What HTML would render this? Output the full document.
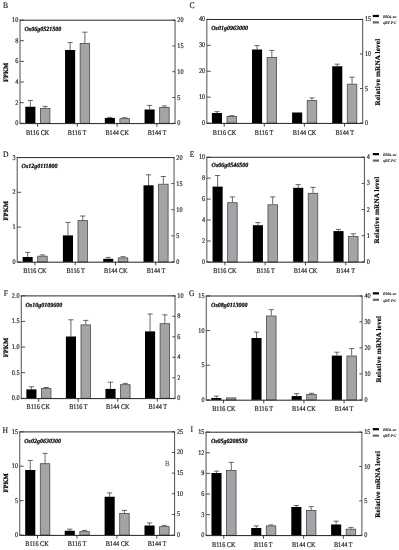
<!DOCTYPE html>
<html lang="en">
<head>
<meta charset="utf-8">
<title>Figure</title>
<style>
html,body{margin:0;padding:0;background:#fff;}
body{width:399px;height:550px;overflow:hidden;}
svg{display:block;}
#fig{filter:blur(0.3px);}
text{font-family:"Liberation Serif", serif;fill:#1a1a1a;text-rendering:geometricPrecision;}
.a{fill:none;stroke:#3a3a3a;stroke-width:0.9;}
.h{fill:none;stroke:#1c1c1c;stroke-width:0.95;}
.hb{fill:none;stroke:#222;stroke-width:1.0;}
.e{fill:none;stroke:#444;stroke-width:0.8;}
.bb{fill:#000;}
.gb{fill:#a3a3a8;stroke:#4a4a4a;stroke-width:0.8;}
.t{font-size:6.2px;stroke:#1a1a1a;stroke-width:0.16px;}
.g{font-size:6px;font-weight:bold;font-style:italic;fill:#000;stroke:#000;stroke-width:0.2px;}
.L{font-size:7.6px;stroke:#1a1a1a;stroke-width:0.15px;}
.y{font-size:6.6px;font-weight:bold;fill:#000;stroke:#000;stroke-width:0.22px;}
.r{font-size:7.05px;font-weight:bold;fill:#000;stroke:#000;stroke-width:0.18px;letter-spacing:0.22px;}
.lg{font-size:3.7px;font-style:italic;fill:#111;stroke:#222;stroke-width:0.12px;}
</style>
</head>
<body>
<svg width="399" height="550" viewBox="0 0 399 550">
<rect width="399" height="550" fill="#fff"/>
<g id="fig">
<g>
<path d="M30.35 106.75V100.40M27.75 100.40H32.95" class="e"/>
<path d="M45.15 108.00V106.40M42.55 106.40H47.75" class="e"/>
<rect x="25.30" y="106.75" width="10.10" height="16.55" class="bb"/>
<rect x="40.40" y="108.40" width="9.50" height="14.90" class="gb"/>
<path d="M37.60 123.30v3.5" class="a"/>
<path d="M70.10 50.00V42.60M67.50 42.60H72.70" class="e"/>
<path d="M84.90 43.20V32.20M82.30 32.20H87.50" class="e"/>
<rect x="65.05" y="50.00" width="10.10" height="73.30" class="bb"/>
<rect x="80.15" y="43.60" width="9.50" height="79.70" class="gb"/>
<path d="M77.35 123.30v3.5" class="a"/>
<path d="M109.85 118.00V117.40M107.25 117.40H112.45" class="e"/>
<path d="M124.65 118.25V117.70M122.05 117.70H127.25" class="e"/>
<rect x="104.80" y="118.00" width="10.10" height="5.30" class="bb"/>
<rect x="119.90" y="118.65" width="9.50" height="4.65" class="gb"/>
<path d="M117.10 123.30v3.5" class="a"/>
<path d="M149.60 109.50V105.40M147.00 105.40H152.20" class="e"/>
<path d="M164.40 107.00V105.90M161.80 105.90H167.00" class="e"/>
<rect x="144.55" y="109.50" width="10.10" height="13.80" class="bb"/>
<rect x="159.65" y="107.40" width="9.50" height="15.90" class="gb"/>
<path d="M156.85 123.30v3.5" class="a"/>
<path d="M20.00 123.30V20.10M175.05 20.10V123.30" class="a"/>
<path d="M19.55 20.20H175.50" class="h"/>
<path d="M19.55 123.60H175.50" class="hb"/>
<path d="M20.00 123.30h3.9" class="a"/>
<path d="M20.00 102.66h3.9" class="a"/>
<path d="M20.00 82.02h3.9" class="a"/>
<path d="M20.00 61.38h3.9" class="a"/>
<path d="M20.00 40.74h3.9" class="a"/>
<path d="M20.00 20.10h3.9" class="a"/>
<path d="M175.05 123.30h-2.7" class="a"/>
<path d="M175.05 97.50h-2.7" class="a"/>
<path d="M175.05 71.70h-2.7" class="a"/>
<path d="M175.05 45.90h-2.7" class="a"/>
<path d="M175.05 20.10h-2.7" class="a"/>
</g>
<g>
<path d="M216.95 113.00V111.65M214.35 111.65H219.55" class="e"/>
<path d="M231.75 116.00V115.65M229.15 115.65H234.35" class="e"/>
<rect x="211.90" y="113.00" width="10.10" height="10.10" class="bb"/>
<rect x="227.00" y="116.40" width="9.50" height="6.70" class="gb"/>
<path d="M224.20 123.10v3.5" class="a"/>
<path d="M257.05 49.50V45.65M254.45 45.65H259.65" class="e"/>
<path d="M271.85 57.00V50.40M269.25 50.40H274.45" class="e"/>
<rect x="252.00" y="49.50" width="10.10" height="73.60" class="bb"/>
<rect x="267.10" y="57.40" width="9.50" height="65.70" class="gb"/>
<path d="M264.30 123.10v3.5" class="a"/>
<path d="M311.95 100.00V97.90M309.35 97.90H314.55" class="e"/>
<rect x="292.10" y="112.50" width="10.10" height="10.60" class="bb"/>
<rect x="307.20" y="100.40" width="9.50" height="22.70" class="gb"/>
<path d="M304.40 123.10v3.5" class="a"/>
<path d="M337.25 66.25V64.15M334.65 64.15H339.85" class="e"/>
<path d="M352.05 83.75V77.15M349.45 77.15H354.65" class="e"/>
<rect x="332.20" y="66.25" width="10.10" height="56.85" class="bb"/>
<rect x="347.30" y="84.15" width="9.50" height="38.95" class="gb"/>
<path d="M344.50 123.10v3.5" class="a"/>
<path d="M206.85 123.10V19.40M362.70 19.40V123.10" class="a"/>
<path d="M206.40 19.50H363.15" class="h"/>
<path d="M206.40 123.40H363.15" class="hb"/>
<path d="M206.85 123.10h3.9" class="a"/>
<path d="M206.85 97.17h3.9" class="a"/>
<path d="M206.85 71.25h3.9" class="a"/>
<path d="M206.85 45.33h3.9" class="a"/>
<path d="M206.85 19.40h3.9" class="a"/>
<path d="M362.70 123.10h-2.7" class="a"/>
<path d="M362.70 88.53h-2.7" class="a"/>
<path d="M362.70 53.97h-2.7" class="a"/>
<path d="M362.70 19.40h-2.7" class="a"/>
<rect x="372.75" y="14.85" width="6.2" height="2.2" fill="#000"/>
<rect x="372.75" y="21.30" width="6.2" height="2.2" fill="#66666a"/>
</g>
<g>
<path d="M27.65 257.00V252.40M25.05 252.40H30.25" class="e"/>
<path d="M42.45 255.80V254.90M39.85 254.90H45.05" class="e"/>
<rect x="22.60" y="257.00" width="10.10" height="4.90" class="bb"/>
<rect x="37.70" y="256.20" width="9.50" height="5.70" class="gb"/>
<path d="M34.90 261.90v3.5" class="a"/>
<path d="M67.95 235.40V222.40M65.35 222.40H70.55" class="e"/>
<path d="M82.75 220.20V216.00M80.15 216.00H85.35" class="e"/>
<rect x="62.90" y="235.40" width="10.10" height="26.50" class="bb"/>
<rect x="78.00" y="220.60" width="9.50" height="41.30" class="gb"/>
<path d="M75.20 261.90v3.5" class="a"/>
<path d="M108.25 258.80V257.40M105.65 257.40H110.85" class="e"/>
<path d="M123.05 257.50V256.70M120.45 256.70H125.65" class="e"/>
<rect x="103.20" y="258.80" width="10.10" height="3.10" class="bb"/>
<rect x="118.30" y="257.90" width="9.50" height="4.00" class="gb"/>
<path d="M115.50 261.90v3.5" class="a"/>
<path d="M148.55 185.30V174.80M145.95 174.80H151.15" class="e"/>
<path d="M163.35 183.80V176.50M160.75 176.50H165.95" class="e"/>
<rect x="143.50" y="185.30" width="10.10" height="76.60" class="bb"/>
<rect x="158.60" y="184.20" width="9.50" height="77.70" class="gb"/>
<path d="M155.80 261.90v3.5" class="a"/>
<path d="M17.20 261.90V157.50M174.05 157.50V261.90" class="a"/>
<path d="M16.75 157.60H174.50" class="h"/>
<path d="M16.75 262.20H174.50" class="hb"/>
<path d="M17.20 261.90h3.9" class="a"/>
<path d="M17.20 227.10h3.9" class="a"/>
<path d="M17.20 192.30h3.9" class="a"/>
<path d="M17.20 157.50h3.9" class="a"/>
<path d="M174.05 261.90h-2.7" class="a"/>
<path d="M174.05 235.80h-2.7" class="a"/>
<path d="M174.05 209.70h-2.7" class="a"/>
<path d="M174.05 183.60h-2.7" class="a"/>
<path d="M174.05 157.50h-2.7" class="a"/>
</g>
<g>
<path d="M217.60 186.60V175.50M215.00 175.50H220.20" class="e"/>
<path d="M232.40 202.30V196.90M229.80 196.90H235.00" class="e"/>
<rect x="212.55" y="186.60" width="10.10" height="75.30" class="bb"/>
<rect x="227.65" y="202.70" width="9.50" height="59.20" class="gb"/>
<path d="M224.85 261.90v3.5" class="a"/>
<path d="M257.90 225.20V222.60M255.30 222.60H260.50" class="e"/>
<path d="M272.70 204.40V196.90M270.10 196.90H275.30" class="e"/>
<rect x="252.85" y="225.20" width="10.10" height="36.70" class="bb"/>
<rect x="267.95" y="204.80" width="9.50" height="57.10" class="gb"/>
<path d="M265.15 261.90v3.5" class="a"/>
<path d="M298.20 187.80V184.60M295.60 184.60H300.80" class="e"/>
<path d="M313.00 192.90V187.40M310.40 187.40H315.60" class="e"/>
<rect x="293.15" y="187.80" width="10.10" height="74.10" class="bb"/>
<rect x="308.25" y="193.30" width="9.50" height="68.60" class="gb"/>
<path d="M305.45 261.90v3.5" class="a"/>
<path d="M338.50 231.10V229.40M335.90 229.40H341.10" class="e"/>
<path d="M353.30 236.00V233.80M350.70 233.80H355.90" class="e"/>
<rect x="333.45" y="231.10" width="10.10" height="30.80" class="bb"/>
<rect x="348.55" y="236.40" width="9.50" height="25.50" class="gb"/>
<path d="M345.75 261.90v3.5" class="a"/>
<path d="M206.85 261.90V157.20M364.40 157.20V261.90" class="a"/>
<path d="M206.40 157.30H364.85" class="h"/>
<path d="M206.40 262.20H364.85" class="hb"/>
<path d="M206.85 261.90h3.9" class="a"/>
<path d="M206.85 240.96h3.9" class="a"/>
<path d="M206.85 220.02h3.9" class="a"/>
<path d="M206.85 199.08h3.9" class="a"/>
<path d="M206.85 178.14h3.9" class="a"/>
<path d="M206.85 157.20h3.9" class="a"/>
<path d="M364.40 261.90h-2.7" class="a"/>
<path d="M364.40 235.72h-2.7" class="a"/>
<path d="M364.40 209.55h-2.7" class="a"/>
<path d="M364.40 183.38h-2.7" class="a"/>
<path d="M364.40 157.20h-2.7" class="a"/>
<rect x="372.80" y="153.05" width="6.2" height="2.2" fill="#000"/>
<rect x="372.80" y="159.50" width="6.2" height="2.2" fill="#66666a"/>
</g>
<g>
<path d="M31.40 389.40V386.80M28.80 386.80H34.00" class="e"/>
<path d="M46.20 388.10V387.50M43.60 387.50H48.80" class="e"/>
<rect x="26.35" y="389.40" width="10.10" height="8.90" class="bb"/>
<rect x="41.45" y="388.50" width="9.50" height="9.80" class="gb"/>
<path d="M38.65 398.30v3.5" class="a"/>
<path d="M70.95 336.50V319.80M68.35 319.80H73.55" class="e"/>
<path d="M85.75 324.50V320.40M83.15 320.40H88.35" class="e"/>
<rect x="65.90" y="336.50" width="10.10" height="61.80" class="bb"/>
<rect x="81.00" y="324.90" width="9.50" height="73.40" class="gb"/>
<path d="M78.20 398.30v3.5" class="a"/>
<path d="M110.50 388.90V382.20M107.90 382.20H113.10" class="e"/>
<path d="M125.30 384.30V383.40M122.70 383.40H127.90" class="e"/>
<rect x="105.45" y="388.90" width="10.10" height="9.40" class="bb"/>
<rect x="120.55" y="384.70" width="9.50" height="13.60" class="gb"/>
<path d="M117.75 398.30v3.5" class="a"/>
<path d="M150.05 331.40V314.00M147.45 314.00H152.65" class="e"/>
<path d="M164.85 323.30V314.80M162.25 314.80H167.45" class="e"/>
<rect x="145.00" y="331.40" width="10.10" height="66.90" class="bb"/>
<rect x="160.10" y="323.70" width="9.50" height="74.60" class="gb"/>
<path d="M157.30 398.30v3.5" class="a"/>
<path d="M21.25 398.30V295.80M175.05 295.80V398.30" class="a"/>
<path d="M20.80 295.90H175.50" class="h"/>
<path d="M20.80 398.60H175.50" class="hb"/>
<path d="M21.25 398.30h3.9" class="a"/>
<path d="M21.25 372.68h3.9" class="a"/>
<path d="M21.25 347.05h3.9" class="a"/>
<path d="M21.25 321.43h3.9" class="a"/>
<path d="M21.25 295.80h3.9" class="a"/>
<path d="M175.05 398.30h-2.7" class="a"/>
<path d="M175.05 377.80h-2.7" class="a"/>
<path d="M175.05 357.30h-2.7" class="a"/>
<path d="M175.05 336.80h-2.7" class="a"/>
<path d="M175.05 316.30h-2.7" class="a"/>
<path d="M175.05 295.80h-2.7" class="a"/>
</g>
<g>
<path d="M216.30 398.00V396.10M213.70 396.10H218.90" class="e"/>
<rect x="211.25" y="398.00" width="10.10" height="1.90" class="bb"/>
<rect x="226.35" y="397.90" width="9.50" height="2.00" class="gb"/>
<path d="M223.55 399.90v3.5" class="a"/>
<path d="M256.50 338.00V332.10M253.90 332.10H259.10" class="e"/>
<path d="M271.30 315.60V309.70M268.70 309.70H273.90" class="e"/>
<rect x="251.45" y="338.00" width="10.10" height="61.90" class="bb"/>
<rect x="266.55" y="316.00" width="9.50" height="83.90" class="gb"/>
<path d="M263.75 399.90v3.5" class="a"/>
<path d="M296.70 396.10V393.60M294.10 393.60H299.30" class="e"/>
<path d="M311.50 394.10V393.30M308.90 393.30H314.10" class="e"/>
<rect x="291.65" y="396.10" width="10.10" height="3.80" class="bb"/>
<rect x="306.75" y="394.50" width="9.50" height="5.40" class="gb"/>
<path d="M303.95 399.90v3.5" class="a"/>
<path d="M336.85 355.60V352.20M334.25 352.20H339.45" class="e"/>
<path d="M351.65 355.60V348.60M349.05 348.60H354.25" class="e"/>
<rect x="331.80" y="355.60" width="10.10" height="44.30" class="bb"/>
<rect x="346.90" y="356.00" width="9.50" height="43.90" class="gb"/>
<path d="M344.10 399.90v3.5" class="a"/>
<path d="M206.25 399.90V295.90M362.10 295.90V399.90" class="a"/>
<path d="M205.80 296.00H362.55" class="h"/>
<path d="M205.80 400.20H362.55" class="hb"/>
<path d="M206.25 399.90h3.9" class="a"/>
<path d="M206.25 365.23h3.9" class="a"/>
<path d="M206.25 330.57h3.9" class="a"/>
<path d="M206.25 295.90h3.9" class="a"/>
<path d="M362.10 399.90h-2.7" class="a"/>
<path d="M362.10 373.90h-2.7" class="a"/>
<path d="M362.10 347.90h-2.7" class="a"/>
<path d="M362.10 321.90h-2.7" class="a"/>
<path d="M362.10 295.90h-2.7" class="a"/>
<rect x="372.80" y="292.25" width="6.2" height="2.2" fill="#000"/>
<rect x="372.80" y="298.70" width="6.2" height="2.2" fill="#66666a"/>
</g>
<g>
<path d="M30.25 470.00V460.40M27.65 460.40H32.85" class="e"/>
<path d="M45.05 463.30V453.40M42.45 453.40H47.65" class="e"/>
<rect x="25.20" y="470.00" width="10.10" height="65.10" class="bb"/>
<rect x="40.30" y="463.70" width="9.50" height="71.40" class="gb"/>
<path d="M37.50 535.10v3.5" class="a"/>
<path d="M69.75 530.75V529.15M67.15 529.15H72.35" class="e"/>
<path d="M84.55 531.25V530.40M81.95 530.40H87.15" class="e"/>
<rect x="64.70" y="530.75" width="10.10" height="4.35" class="bb"/>
<rect x="79.80" y="531.65" width="9.50" height="3.45" class="gb"/>
<path d="M77.00 535.10v3.5" class="a"/>
<path d="M109.65 496.75V492.90M107.05 492.90H112.25" class="e"/>
<path d="M124.45 513.00V510.40M121.85 510.40H127.05" class="e"/>
<rect x="104.60" y="496.75" width="10.10" height="38.35" class="bb"/>
<rect x="119.70" y="513.40" width="9.50" height="21.70" class="gb"/>
<path d="M116.90 535.10v3.5" class="a"/>
<path d="M149.55 525.50V522.90M146.95 522.90H152.15" class="e"/>
<path d="M164.35 526.25V525.40M161.75 525.40H166.95" class="e"/>
<rect x="144.50" y="525.50" width="10.10" height="9.60" class="bb"/>
<rect x="159.60" y="526.65" width="9.50" height="8.45" class="gb"/>
<path d="M156.80 535.10v3.5" class="a"/>
<path d="M19.75 535.10V431.80M174.60 431.80V535.10" class="a"/>
<path d="M19.30 431.90H175.05" class="h"/>
<path d="M19.30 535.40H175.05" class="hb"/>
<path d="M19.75 535.10h3.9" class="a"/>
<path d="M19.75 500.67h3.9" class="a"/>
<path d="M19.75 466.23h3.9" class="a"/>
<path d="M19.75 431.80h3.9" class="a"/>
<path d="M174.60 535.10h-2.7" class="a"/>
<path d="M174.60 514.44h-2.7" class="a"/>
<path d="M174.60 493.78h-2.7" class="a"/>
<path d="M174.60 473.12h-2.7" class="a"/>
<path d="M174.60 452.46h-2.7" class="a"/>
<path d="M174.60 431.80h-2.7" class="a"/>
</g>
<g>
<path d="M216.50 473.00V471.15M213.90 471.15H219.10" class="e"/>
<path d="M231.30 470.00V462.40M228.70 462.40H233.90" class="e"/>
<rect x="211.45" y="473.00" width="10.10" height="62.30" class="bb"/>
<rect x="226.55" y="470.40" width="9.50" height="64.90" class="gb"/>
<path d="M223.75 535.30v3.5" class="a"/>
<path d="M256.25 528.00V525.90M253.65 525.90H258.85" class="e"/>
<path d="M271.05 525.50V524.90M268.45 524.90H273.65" class="e"/>
<rect x="251.20" y="528.00" width="10.10" height="7.30" class="bb"/>
<rect x="266.30" y="525.90" width="9.50" height="9.40" class="gb"/>
<path d="M263.50 535.30v3.5" class="a"/>
<path d="M296.35 507.00V505.50M293.75 505.50H298.95" class="e"/>
<path d="M311.15 510.00V506.65M308.55 506.65H313.75" class="e"/>
<rect x="291.30" y="507.00" width="10.10" height="28.30" class="bb"/>
<rect x="306.40" y="510.40" width="9.50" height="24.90" class="gb"/>
<path d="M303.60 535.30v3.5" class="a"/>
<path d="M336.15 524.50V521.15M333.55 521.15H338.75" class="e"/>
<path d="M350.95 528.75V527.40M348.35 527.40H353.55" class="e"/>
<rect x="331.10" y="524.50" width="10.10" height="10.80" class="bb"/>
<rect x="346.20" y="529.15" width="9.50" height="6.15" class="gb"/>
<path d="M343.40 535.30v3.5" class="a"/>
<path d="M206.05 535.30V432.10M361.90 432.10V535.30" class="a"/>
<path d="M205.60 432.20H362.35" class="h"/>
<path d="M205.60 535.60H362.35" class="hb"/>
<path d="M206.05 535.30h3.9" class="a"/>
<path d="M206.05 514.66h3.9" class="a"/>
<path d="M206.05 494.02h3.9" class="a"/>
<path d="M206.05 473.38h3.9" class="a"/>
<path d="M206.05 452.74h3.9" class="a"/>
<path d="M206.05 432.10h3.9" class="a"/>
<path d="M361.90 535.30h-2.7" class="a"/>
<path d="M361.90 500.90h-2.7" class="a"/>
<path d="M361.90 466.50h-2.7" class="a"/>
<path d="M361.90 432.10h-2.7" class="a"/>
<rect x="372.75" y="428.10" width="6.2" height="2.2" fill="#000"/>
<rect x="372.75" y="434.55" width="6.2" height="2.2" fill="#66666a"/>
</g>
</g>
<g id="labels">
<text transform="translate(18.30 125.30) scale(1 1.14)" class="t" text-anchor="end">0</text>
<text transform="translate(18.30 104.66) scale(1 1.14)" class="t" text-anchor="end">2</text>
<text transform="translate(18.30 84.02) scale(1 1.14)" class="t" text-anchor="end">4</text>
<text transform="translate(18.30 63.38) scale(1 1.14)" class="t" text-anchor="end">6</text>
<text transform="translate(18.30 42.74) scale(1 1.14)" class="t" text-anchor="end">8</text>
<text transform="translate(18.30 22.10) scale(1 1.14)" class="t" text-anchor="end">10</text>
<text transform="translate(177.35 125.30) scale(1 1.14)" class="t">0</text>
<text transform="translate(177.35 99.50) scale(1 1.14)" class="t">5</text>
<text transform="translate(177.35 73.70) scale(1 1.14)" class="t">10</text>
<text transform="translate(177.35 47.90) scale(1 1.14)" class="t">15</text>
<text transform="translate(177.35 22.10) scale(1 1.14)" class="t">20</text>
<text transform="translate(37.60 134.50) scale(1 1.14)" class="t" text-anchor="middle">B116 CK</text>
<text transform="translate(77.00 134.50) scale(1 1.14)" class="t" text-anchor="middle">B116 T</text>
<text transform="translate(117.20 134.50) scale(1 1.14)" class="t" text-anchor="middle">B144 CK</text>
<text transform="translate(157.00 134.50) scale(1 1.14)" class="t" text-anchor="middle">B144 T</text>
<text transform="translate(24.50 31.00) scale(1 1.06)" class="g">Os06g0521500</text>
<text transform="translate(3.00 8.30) scale(1 1.12)" class="L">B</text>
<text transform="translate(7.80 72.40) rotate(-90)" class="y" text-anchor="middle">FPKM</text>
<text transform="translate(205.15 125.10) scale(1 1.14)" class="t" text-anchor="end">0</text>
<text transform="translate(205.15 99.17) scale(1 1.14)" class="t" text-anchor="end">10</text>
<text transform="translate(205.15 73.25) scale(1 1.14)" class="t" text-anchor="end">20</text>
<text transform="translate(205.15 47.33) scale(1 1.14)" class="t" text-anchor="end">30</text>
<text transform="translate(205.15 21.40) scale(1 1.14)" class="t" text-anchor="end">40</text>
<text transform="translate(365.00 125.10) scale(1 1.14)" class="t">0</text>
<text transform="translate(365.00 90.53) scale(1 1.14)" class="t">5</text>
<text transform="translate(365.00 55.97) scale(1 1.14)" class="t">10</text>
<text transform="translate(365.00 21.40) scale(1 1.14)" class="t">15</text>
<text transform="translate(224.50 134.50) scale(1 1.14)" class="t" text-anchor="middle">B116 CK</text>
<text transform="translate(264.00 134.50) scale(1 1.14)" class="t" text-anchor="middle">B116 T</text>
<text transform="translate(304.50 134.50) scale(1 1.14)" class="t" text-anchor="middle">B144 CK</text>
<text transform="translate(344.75 134.50) scale(1 1.14)" class="t" text-anchor="middle">B144 T</text>
<text transform="translate(211.25 29.70) scale(1 1.06)" class="g">Os01g0963000</text>
<text transform="translate(189.40 8.40) scale(1 1.12)" class="L">C</text>
<text transform="translate(380.00 72.00) rotate(-90)" class="r" text-anchor="middle">Relative mRNA level</text>
<text x="382.95" y="17.80" class="lg" textLength="13.4" lengthAdjust="spacingAndGlyphs">RNA-se</text>
<text x="382.95" y="24.10" class="lg" textLength="13.2" lengthAdjust="spacingAndGlyphs">qRT-PC</text>
<text transform="translate(15.50 263.90) scale(1 1.14)" class="t" text-anchor="end">0</text>
<text transform="translate(15.50 229.10) scale(1 1.14)" class="t" text-anchor="end">1</text>
<text transform="translate(15.50 194.30) scale(1 1.14)" class="t" text-anchor="end">2</text>
<text transform="translate(15.50 159.50) scale(1 1.14)" class="t" text-anchor="end">3</text>
<text transform="translate(176.35 263.90) scale(1 1.14)" class="t">0</text>
<text transform="translate(176.35 237.80) scale(1 1.14)" class="t">5</text>
<text transform="translate(176.35 211.70) scale(1 1.14)" class="t">10</text>
<text transform="translate(176.35 185.60) scale(1 1.14)" class="t">15</text>
<text transform="translate(176.35 159.50) scale(1 1.14)" class="t">20</text>
<text transform="translate(34.90 273.10) scale(1 1.14)" class="t" text-anchor="middle">B116 CK</text>
<text transform="translate(75.60 273.10) scale(1 1.14)" class="t" text-anchor="middle">B116 T</text>
<text transform="translate(115.80 273.10) scale(1 1.14)" class="t" text-anchor="middle">B144 CK</text>
<text transform="translate(156.00 273.10) scale(1 1.14)" class="t" text-anchor="middle">B144 T</text>
<text transform="translate(21.60 168.10) scale(1 1.06)" class="g">Os12g0111800</text>
<text transform="translate(3.00 156.90) scale(1 1.12)" class="L">D</text>
<text transform="translate(7.80 210.70) rotate(-90)" class="y" text-anchor="middle">FPKM</text>
<text transform="translate(205.15 263.90) scale(1 1.14)" class="t" text-anchor="end">0</text>
<text transform="translate(205.15 242.96) scale(1 1.14)" class="t" text-anchor="end">2</text>
<text transform="translate(205.15 222.02) scale(1 1.14)" class="t" text-anchor="end">4</text>
<text transform="translate(205.15 201.08) scale(1 1.14)" class="t" text-anchor="end">6</text>
<text transform="translate(205.15 180.14) scale(1 1.14)" class="t" text-anchor="end">8</text>
<text transform="translate(205.15 159.20) scale(1 1.14)" class="t" text-anchor="end">10</text>
<text transform="translate(366.70 263.90) scale(1 1.14)" class="t">0</text>
<text transform="translate(366.70 237.72) scale(1 1.14)" class="t">1</text>
<text transform="translate(366.70 211.55) scale(1 1.14)" class="t">2</text>
<text transform="translate(366.70 185.38) scale(1 1.14)" class="t">3</text>
<text transform="translate(366.70 159.20) scale(1 1.14)" class="t">4</text>
<text transform="translate(224.90 273.20) scale(1 1.14)" class="t" text-anchor="middle">B116 CK</text>
<text transform="translate(265.60 273.20) scale(1 1.14)" class="t" text-anchor="middle">B116 T</text>
<text transform="translate(305.50 273.20) scale(1 1.14)" class="t" text-anchor="middle">B144 CK</text>
<text transform="translate(345.60 273.20) scale(1 1.14)" class="t" text-anchor="middle">B144 T</text>
<text transform="translate(211.60 167.20) scale(1 1.06)" class="g">Os06g0546500</text>
<text transform="translate(189.80 157.20) scale(1 1.12)" class="L">E</text>
<text transform="translate(378.80 210.00) rotate(-90)" class="r" text-anchor="middle">Relative mRNA level</text>
<text x="383.00" y="156.00" class="lg" textLength="13.4" lengthAdjust="spacingAndGlyphs">RNA-se</text>
<text x="383.00" y="162.30" class="lg" textLength="13.2" lengthAdjust="spacingAndGlyphs">qRT-PC</text>
<text transform="translate(19.55 400.30) scale(1 1.14)" class="t" text-anchor="end">0.0</text>
<text transform="translate(19.55 374.68) scale(1 1.14)" class="t" text-anchor="end">0.5</text>
<text transform="translate(19.55 349.05) scale(1 1.14)" class="t" text-anchor="end">1.0</text>
<text transform="translate(19.55 323.43) scale(1 1.14)" class="t" text-anchor="end">1.5</text>
<text transform="translate(19.55 297.80) scale(1 1.14)" class="t" text-anchor="end">2.0</text>
<text transform="translate(177.35 400.30) scale(1 1.14)" class="t">0</text>
<text transform="translate(177.35 379.80) scale(1 1.14)" class="t">2</text>
<text transform="translate(177.35 359.30) scale(1 1.14)" class="t">4</text>
<text transform="translate(177.35 338.80) scale(1 1.14)" class="t">6</text>
<text transform="translate(177.35 318.30) scale(1 1.14)" class="t">8</text>
<text transform="translate(177.35 297.80) scale(1 1.14)" class="t">10</text>
<text transform="translate(38.20 408.50) scale(1 1.14)" class="t" text-anchor="middle">B116 CK</text>
<text transform="translate(78.40 408.50) scale(1 1.14)" class="t" text-anchor="middle">B116 T</text>
<text transform="translate(117.80 408.50) scale(1 1.14)" class="t" text-anchor="middle">B144 CK</text>
<text transform="translate(157.80 408.50) scale(1 1.14)" class="t" text-anchor="middle">B144 T</text>
<text transform="translate(25.50 306.50) scale(1 1.06)" class="g">Os10g0109600</text>
<text transform="translate(3.80 295.90) scale(1 1.12)" class="L">F</text>
<text transform="translate(7.80 347.50) rotate(-90)" class="y" text-anchor="middle">FPKM</text>
<text transform="translate(204.55 401.90) scale(1 1.14)" class="t" text-anchor="end">0</text>
<text transform="translate(204.55 367.23) scale(1 1.14)" class="t" text-anchor="end">5</text>
<text transform="translate(204.55 332.57) scale(1 1.14)" class="t" text-anchor="end">10</text>
<text transform="translate(204.55 297.90) scale(1 1.14)" class="t" text-anchor="end">15</text>
<text transform="translate(364.40 401.90) scale(1 1.14)" class="t">0</text>
<text transform="translate(364.40 375.90) scale(1 1.14)" class="t">10</text>
<text transform="translate(364.40 349.90) scale(1 1.14)" class="t">20</text>
<text transform="translate(364.40 323.90) scale(1 1.14)" class="t">30</text>
<text transform="translate(364.40 297.90) scale(1 1.14)" class="t">40</text>
<text transform="translate(223.80 411.00) scale(1 1.14)" class="t" text-anchor="middle">B116 CK</text>
<text transform="translate(263.80 411.00) scale(1 1.14)" class="t" text-anchor="middle">B116 T</text>
<text transform="translate(303.90 411.00) scale(1 1.14)" class="t" text-anchor="middle">B144 CK</text>
<text transform="translate(344.00 411.00) scale(1 1.14)" class="t" text-anchor="middle">B144 T</text>
<text transform="translate(211.10 306.50) scale(1 1.06)" class="g">Os08g0113000</text>
<text transform="translate(189.00 296.20) scale(1 1.12)" class="L">G</text>
<text transform="translate(380.60 349.20) rotate(-90)" class="r" text-anchor="middle">Relative mRNA level</text>
<text x="383.00" y="295.20" class="lg" textLength="13.4" lengthAdjust="spacingAndGlyphs">RNA-se</text>
<text x="383.00" y="301.50" class="lg" textLength="13.2" lengthAdjust="spacingAndGlyphs">qRT-PC</text>
<text transform="translate(18.05 537.10) scale(1 1.14)" class="t" text-anchor="end">0</text>
<text transform="translate(18.05 502.67) scale(1 1.14)" class="t" text-anchor="end">5</text>
<text transform="translate(18.05 468.23) scale(1 1.14)" class="t" text-anchor="end">10</text>
<text transform="translate(18.05 433.80) scale(1 1.14)" class="t" text-anchor="end">15</text>
<text transform="translate(176.90 537.10) scale(1 1.14)" class="t">0</text>
<text transform="translate(176.90 516.44) scale(1 1.14)" class="t">5</text>
<text transform="translate(176.90 495.78) scale(1 1.14)" class="t">10</text>
<text transform="translate(176.90 475.12) scale(1 1.14)" class="t">15</text>
<text transform="translate(176.90 454.46) scale(1 1.14)" class="t">20</text>
<text transform="translate(176.90 433.80) scale(1 1.14)" class="t">25</text>
<text transform="translate(37.00 546.00) scale(1 1.14)" class="t" text-anchor="middle">B116 CK</text>
<text transform="translate(77.00 546.00) scale(1 1.14)" class="t" text-anchor="middle">B116 T</text>
<text transform="translate(117.50 546.00) scale(1 1.14)" class="t" text-anchor="middle">B144 CK</text>
<text transform="translate(157.00 546.00) scale(1 1.14)" class="t" text-anchor="middle">B144 T</text>
<text transform="translate(24.25 442.50) scale(1 1.06)" class="g">Os02g0630300</text>
<text transform="translate(2.60 433.20) scale(1 1.12)" class="L">H</text>
<text transform="translate(7.80 482.90) rotate(-90)" class="y" text-anchor="middle">FPKM</text>
<text transform="translate(204.35 537.30) scale(1 1.14)" class="t" text-anchor="end">0</text>
<text transform="translate(204.35 516.66) scale(1 1.14)" class="t" text-anchor="end">3</text>
<text transform="translate(204.35 496.02) scale(1 1.14)" class="t" text-anchor="end">6</text>
<text transform="translate(204.35 475.38) scale(1 1.14)" class="t" text-anchor="end">9</text>
<text transform="translate(204.35 454.74) scale(1 1.14)" class="t" text-anchor="end">12</text>
<text transform="translate(204.35 434.10) scale(1 1.14)" class="t" text-anchor="end">15</text>
<text transform="translate(364.20 537.30) scale(1 1.14)" class="t">0</text>
<text transform="translate(364.20 502.90) scale(1 1.14)" class="t">5</text>
<text transform="translate(364.20 468.50) scale(1 1.14)" class="t">10</text>
<text transform="translate(364.20 434.10) scale(1 1.14)" class="t">15</text>
<text transform="translate(223.75 546.60) scale(1 1.14)" class="t" text-anchor="middle">B116 CK</text>
<text transform="translate(263.25 546.60) scale(1 1.14)" class="t" text-anchor="middle">B116 T</text>
<text transform="translate(303.70 546.60) scale(1 1.14)" class="t" text-anchor="middle">B144 CK</text>
<text transform="translate(343.25 546.60) scale(1 1.14)" class="t" text-anchor="middle">B144 T</text>
<text transform="translate(210.90 442.50) scale(1 1.06)" class="g">Os05g0208550</text>
<text transform="translate(190.60 431.60) scale(1 1.12)" class="L">I</text>
<text transform="translate(379.50 484.30) rotate(-90)" class="r" text-anchor="middle">Relative mRNA level</text>
<text x="382.95" y="431.05" class="lg" textLength="13.4" lengthAdjust="spacingAndGlyphs">RNA-se</text>
<text x="382.95" y="437.35" class="lg" textLength="13.2" lengthAdjust="spacingAndGlyphs">qRT-PC</text>
<text transform="translate(164.9 465.6) scale(1 1.12)" style="font-size:6.9px;fill:#6a6a6a;stroke:#777;stroke-width:0.22px">B</text>
</g>
</svg>
</body>
</html>
